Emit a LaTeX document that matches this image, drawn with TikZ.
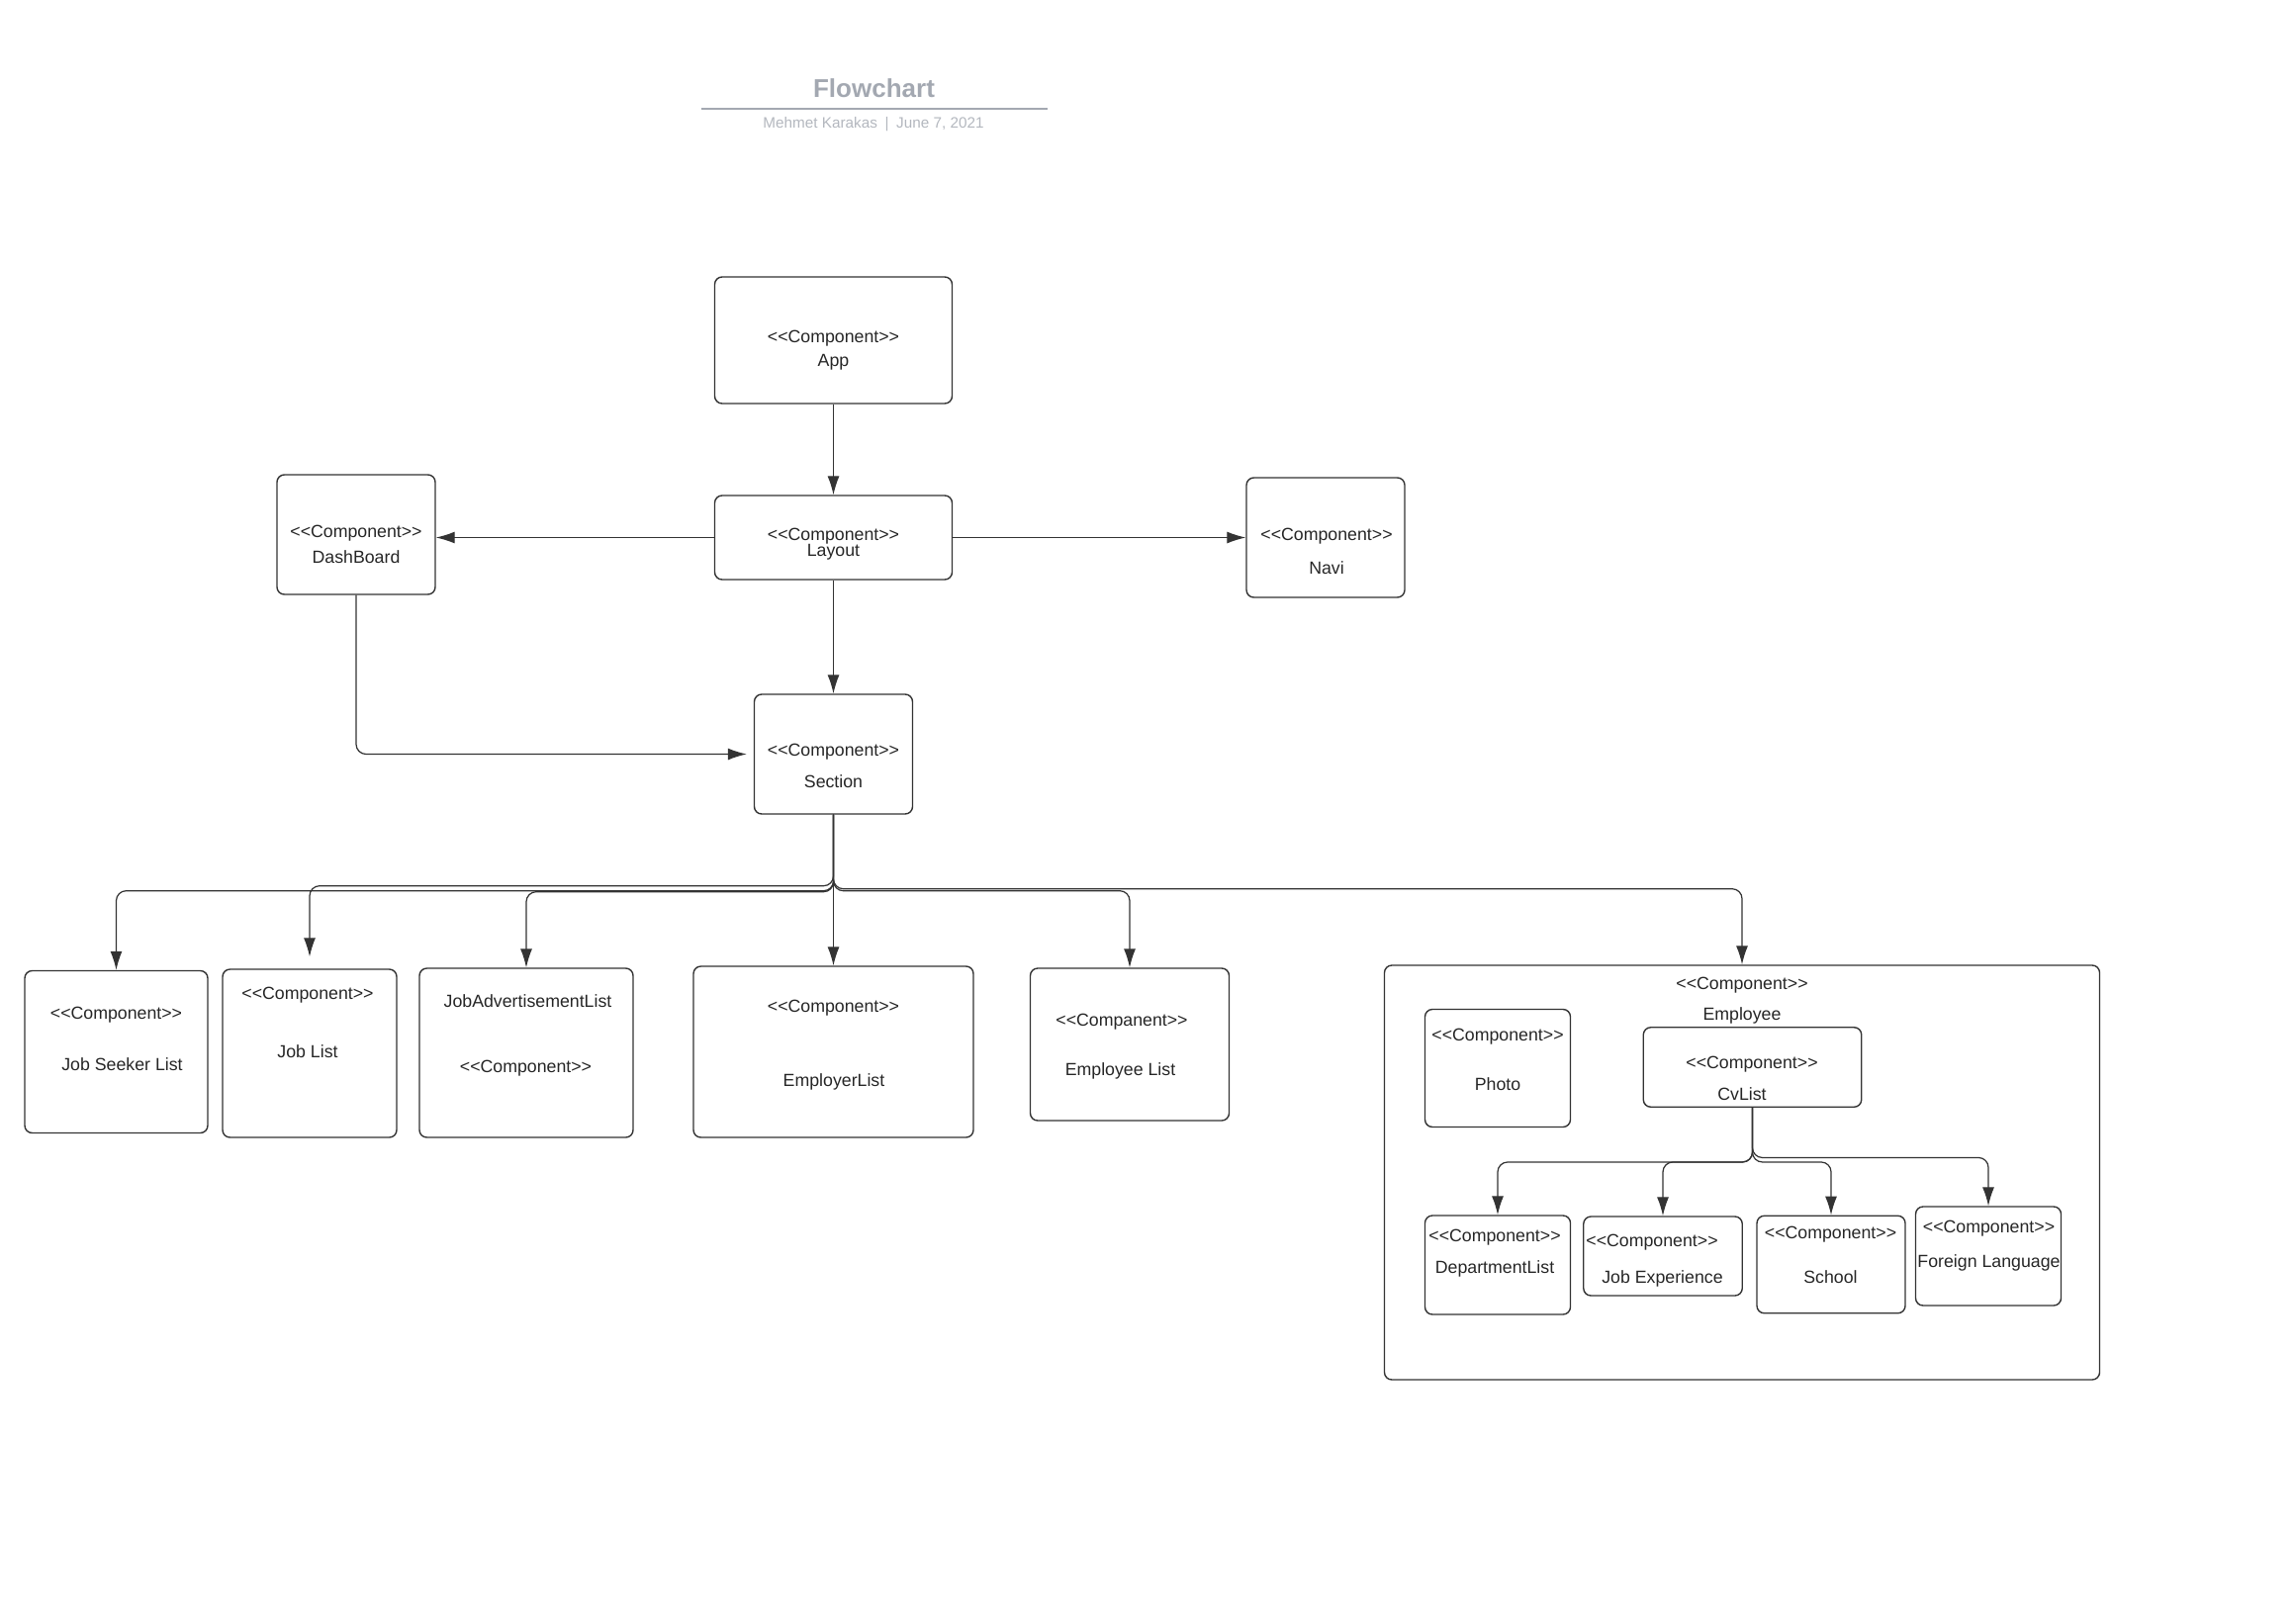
\documentclass[tikz,border=0pt]{standalone}
\usepackage{fontspec}
\setmainfont{Liberation Sans}
\usetikzlibrary{arrows.meta}
\definecolor{linegray}{HTML}{333333}
\definecolor{titlegray}{HTML}{A3A8B1}
\definecolor{subgray}{HTML}{B3B7BE}
\newcommand{\comptag}[1]{<\kern0pt<#1>\kern0pt>}

\begin{document}
\begin{tikzpicture}[
    box/.style={draw=linegray, line width=0.8pt, rounded corners=1.5mm, inner sep=0pt},
    txt/.style={text=black!85, font=\fontsize{10.1}{12}\selectfont, inner sep=0pt},
    link/.style={draw=linegray, line width=0.7pt, rounded corners=2mm, -{Latex[length=3.8mm,width=2.4mm]}}
]
    \useasboundingbox (0,0) rectangle (46.4,-32.82);

    % title
    \node[font=\bfseries\fontsize{14.8}{17}\selectfont, text=titlegray] (title) at (17.67,-1.78) {Flowchart};
    \coordinate (ruleL) at (14.17,-2.2);
    \coordinate (ruleR) at (21.17,-2.2);
    \draw[titlegray, line width=0.8pt] (ruleL) -- (ruleR);
    \node[font=\fontsize{8.7}{10}\selectfont, text=subgray] (sub) at (17.66,-2.52) {Mehmet Karakas\enspace|\enspace June 7, 2021};

    % top part
    \node[box, minimum width=4.8cm, minimum height=2.56cm] (app) at (16.85,-6.88) {};
    \node[txt] (appT) at (16.85,-6.85) {\comptag{Component}};
    \node[txt] (appN) at (16.85,-7.32) {App};

    \node[box, minimum width=4.8cm, minimum height=1.7cm] (lay) at (16.85,-10.87) {};
    \node[txt] (layT) at (16.85,-10.84) {\comptag{Component}};
    \node[txt] (layN) at (16.85,-11.16) {Layout};

    \node[box, minimum width=3.2cm, minimum height=2.42cm] (dash) at (7.2,-10.81) {};
    \node[txt] (dashT) at (7.2,-10.79) {\comptag{Component}};
    \node[txt] (dashN) at (7.2,-11.26) {DashBoard};

    \node[box, minimum width=3.2cm, minimum height=2.42cm] (navi) at (26.8,-10.87) {};
    \node[txt] (naviT) at (26.82,-10.84) {\comptag{Component}};
    \node[txt] (naviN) at (26.82,-11.48) {Navi};

    \node[box, minimum width=3.2cm, minimum height=2.42cm] (sec) at (16.85,-15.25) {};
    \node[txt] (secT) at (16.85,-15.2) {\comptag{Component}};
    \node[txt] (secN) at (16.85,-15.81) {Section};

    \draw[link] (app) -- (lay);
    \draw[link] (lay.west) -- (lay.west -| dash.east);
    \draw[link] (lay) -- (navi);
    \draw[link] (lay) -- (sec);
    \draw[link, shorten >=0.14cm] (dash.south) |- (sec.west);

    % lists
    \node[box, minimum width=3.7cm, minimum height=3.28cm] (jsl) at (2.35,-21.27) {};
    \node[txt] (jslT) at (2.35,-20.53) {\comptag{Component}};
    \node[txt] (jslN) at (2.47,-21.53) {Job Seeker List};

    \node[box, minimum width=3.52cm, minimum height=3.4cm] (jl) at (6.26,-21.3) {};
    \node[txt] (jlT) at (6.22,-20.13) {\comptag{Component}};
    \node[txt] (jlN) at (6.22,-21.27) {Job List};

    \node[box, minimum width=4.32cm, minimum height=3.42cm] (jal) at (10.64,-21.29) {};
    \node[txt] (jalN) at (10.67,-20.25) {JobAdvertisementList};
    \node[txt] (jalT) at (10.63,-21.61) {\comptag{Component}};

    \node[box, minimum width=5.66cm, minimum height=3.46cm] (erl) at (16.85,-21.27) {};
    \node[txt] (erlT) at (16.85,-20.39) {\comptag{Component}};
    \node[txt] (erlN) at (16.86,-21.87) {EmployerList};

    \node[box, minimum width=4.02cm, minimum height=3.08cm] (eel) at (22.84,-21.12) {};
    \node[txt] (eelT) at (22.68,-20.67) {\comptag{Companent}};
    \node[txt] (eelN) at (22.65,-21.65) {Employee List};

    % employee
    \node[box, minimum width=14.46cm, minimum height=8.38cm] (emp) at (35.22,-23.71) {};
    \node[txt] (empT) at (35.22,-19.93) {\comptag{Component}};
    \node[txt] (empN) at (35.22,-20.53) {Employee};

    \draw[link] (sec.south) -- ++(0,-1.54) -| (jsl.north);
    \draw[link, shorten >=0.24cm] (sec.south) -- ++(0,-1.44) -| (jl.north);
    \draw[link] (sec.south) -- ++(0,-1.56) -| (jal.north);
    \draw[link] (sec) -- (erl);
    \draw[link] (sec.south) -- ++(0,-1.54) -| (eel.north);
    \draw[link] (sec.south) -- ++(0,-1.5) -| (emp.north);

    \node[box, minimum width=2.94cm, minimum height=2.38cm] (photo) at (30.28,-21.6) {};
    \node[txt] (photoT) at (30.28,-20.97) {\comptag{Component}};
    \node[txt] (photoN) at (30.28,-21.93) {Photo};

    \node[box, minimum width=4.41cm, minimum height=1.61cm] (cv) at (35.43,-21.58) {};
    \node[txt] (cvT) at (35.42,-21.53) {\comptag{Component}};
    \node[txt] (cvN) at (35.22,-22.13) {CvList};

    \node[box, minimum width=2.94cm, minimum height=2cm] (dep) at (30.28,-25.58) {};
    \node[txt] (depT) at (30.22,-25.03) {\comptag{Component}};
    \node[txt] (depN) at (30.22,-25.65) {DepartmentList};

    \node[box, minimum width=3.21cm, minimum height=1.6cm] (jex) at (33.62,-25.4) {};
    \node[txt] (jexT) at (33.4,-25.13) {\comptag{Component}};
    \node[txt] (jexN) at (33.61,-25.85) {Job Experience};

    \node[box, minimum width=3cm, minimum height=1.97cm] (sch) at (37.02,-25.57) {};
    \node[txt] (schT) at (37.01,-24.97) {\comptag{Component}};
    \node[txt] (schN) at (37.01,-25.82) {School};

    \node[box, minimum width=2.94cm, minimum height=2cm] (flang) at (40.2,-25.4) {};
    \node[txt] (flangT) at (40.21,-24.85) {\comptag{Component}};
    \node[txt] (flangN) at (40.21,-25.53) {Foreign Language};

    \draw[link] (cv.south) -- ++(0,-1.1) -| (dep.north);
    \draw[link] (cv.south) -- ++(0,-1.1) -| (jex.north);
    \draw[link] (cv.south) -- ++(0,-1.1) -| (sch.north);
    \draw[link] (cv.south) -- ++(0,-1.01) -| (flang.north);
\end{tikzpicture}
\end{document}
